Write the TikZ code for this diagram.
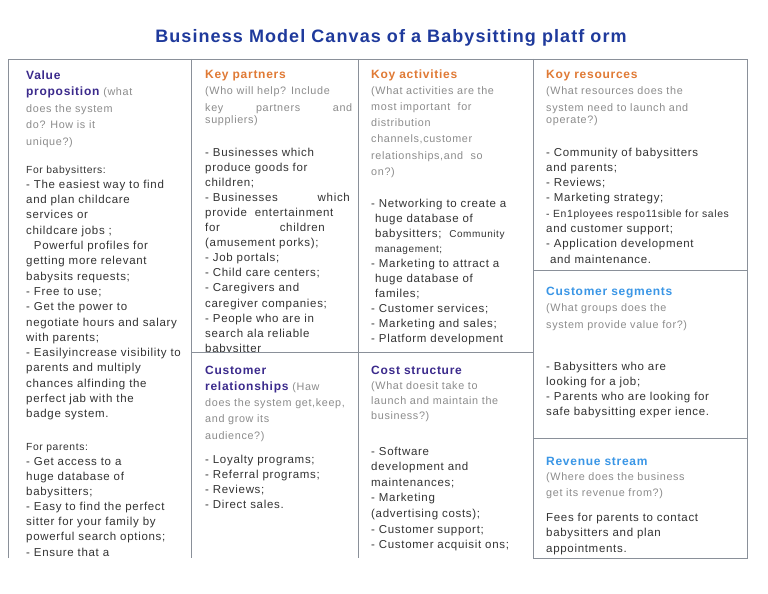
\documentclass[tikz,border=0pt]{standalone}
\usepackage{fontspec}
\setmainfont[LetterSpace=6]{Liberation Sans}
\definecolor{ttl}{HTML}{1F3A9C}
\definecolor{vp}{HTML}{3B2A8C}
\definecolor{org}{HTML}{E07A35}
\definecolor{lb}{HTML}{3A96E6}
\definecolor{gr}{HTML}{8C8C8C}
\definecolor{bd}{HTML}{333333}
\definecolor{ln}{HTML}{8A9099}
\newcommand\hdv[1]{{\bfseries\fontsize{12}{14}\selectfont\color{vp}#1}}
\newcommand\hdo[1]{{\bfseries\fontsize{12}{14}\selectfont\color{org}#1}}
\newcommand\hdl[1]{{\bfseries\fontsize{12}{14}\selectfont\color{lb}#1}}
\newcommand\gy[1]{{\color{gr}\fontsize{10.8}{12}\selectfont #1}}
\newcommand\txtblock[4]{%
  \foreach \t [count=\i from 0] in {#4} {%
    \node[anchor=base west,inner sep=0,text=bd,font=\fontsize{11.5}{13}\selectfont] at (#1,{#2+\i*#3}) {\t};}}
\begin{document}
\begin{tikzpicture}[x=1pt,y=-1pt]
\useasboundingbox (0,0) rectangle (768,594);
\fill[white] (0,0) rectangle (768,594);
\tikzset{cell/.style={draw=ln,line width=0.8pt}}
\node[anchor=base,inner sep=0,text=ttl,font=\bfseries\fontsize{18}{20}\selectfont] (title) at (391,43) {Business Model Canvas of a Babysitting platf orm};
% grid
\draw[cell] (8,558) -- (8,59) -- (747,59) -- (747,558) -- (533,558);
\draw[cell] (191,59) -- (191,558);
\draw[cell] (358,59) -- (358,558);
\draw[cell] (533,59) -- (533,558);
\draw[cell] (191,352) -- (533,352);
\draw[cell] (533,270) -- (747,270);
\draw[cell] (533,438) -- (747,438);
% Value proposition
\txtblock{26}{79}{16.5}{{\hdv{Value}},{\hdv{proposition} \gy{(what}},{\gy{does the system}},{\gy{do? How is it}},{\gy{unique?)}}}
\txtblock{26}{173}{15.3}{{\fontsize{10.3}{12}\selectfont For babysitters:},{- The easiest way to find},{and plan childcare},{services or},{childcare jobs ;},{\ \ Powerful profiles for},{getting more relevant},{babysits requests;},{- Free to use;},{- Get the power to},{negotiate hours and salary},{with parents;},{- Easilyincrease visibility to},{parents and multiply},{chances alfinding the},{perfect jab with the},{badge system.}}
\txtblock{26}{450}{15.15}{{\fontsize{10.3}{12}\selectfont For parents:},{- Get access to a},{huge database of},{babysitters;},{- Easy to find the perfect},{sitter for your family by},{powerful search options;},{- Ensure that a}}
% Key partners
\txtblock{205}{78}{16.5}{{\hdo{Key partners}},{\gy{(Who will help? Include}}}
\node[anchor=base west,inner sep=0,text width=147pt] (kp) at (205,111) {\gy{key\hfill partners\hfill and}};
\txtblock{205}{123}{15}{{\gy{suppliers)}}}
\begin{scope}
\clip (192,60) rectangle (357,351);
\txtblock{205}{156}{15.1}{{- Businesses which},{produce goods for},{children;},{- Businesses \hspace{32pt} which},{provide \ entertainment},{for \hspace{52pt} children},{(amusement porks);},{- Job portals;},{- Child care centers;},{- Caregivers and},{caregiver companies;},{- People who are in},{search ala reliable},{babysitter}}
\end{scope}
% Key activities
\txtblock{371}{78}{16.2}{{\hdo{Koy activities}},{\gy{(What activities are the}},{\gy{most important\ \ for}},{\gy{distribution}},{\gy{channels,customer}},{\gy{relationships,and\ \ so}},{\gy{on?)}}}
\txtblock{371}{207}{15.1}{{- Networking to create a},{\ huge database of},{\ babysitters;\ \ {\fontsize{10}{12}\selectfont Community}},{\ {\fontsize{10}{12}\selectfont management;}},{- Marketing to attract a},{\ huge database of},{\ familes;},{- Customer services;},{- Marketing and sales;},{- Platform development}}
% Key resources
\txtblock{546}{78}{16.5}{{\hdo{Koy resources}},{\gy{(What resources does the}},{\gy{system need to launch and}}}
\txtblock{546}{123}{15}{{\gy{operate?)}}}
\txtblock{546}{156}{15.3}{{- Community of babysitters},{and parents;},{- Reviews;},{- Marketing strategy;},{{\fontsize{10.4}{12}\selectfont - En1ployees respo11sible for sales}},{and customer support;},{- Application development},{\ and maintenance.}}
% Customer segments
\txtblock{546}{295}{16.5}{{\hdl{Customer segments}},{\gy{(What groups does the}},{\gy{system provide value for?)}}}
\txtblock{546}{370}{15.3}{{- Babysitters who are},{looking for a job;},{- Parents who are looking for},{safe babysitting exper ience.}}
% Customer relationships
\txtblock{205}{374}{16.3}{{\hdv{Customer}},{\hdv{relationships} \gy{(Haw}},{\gy{does the system get,keep,}},{\gy{and grow its}},{\gy{audience?)}}}
\txtblock{205}{463}{15}{{- Loyalty programs;},{- Referral programs;},{- Reviews;},{- Direct sales.}}
% Cost structure
\txtblock{371}{374}{15.3}{{\hdv{Cost structure}},{\gy{(What doesit take to}},{\gy{launch and maintain the}},{\gy{business?)}}}
\txtblock{371}{455}{15.6}{{- Software},{development and},{maintenances;},{- Marketing},{(advertising costs);},{- Customer support;},{- Customer acquisit ons;}}
% Revenue stream
\txtblock{546}{465}{15.5}{{\hdl{Revenue stream}},{\gy{(Where does the business}},{\gy{get its revenue from?)}}}
\txtblock{546}{521}{15.5}{{Fees for parents to contact},{babysitters and plan},{appointments.}}
\end{tikzpicture}
\end{document}
